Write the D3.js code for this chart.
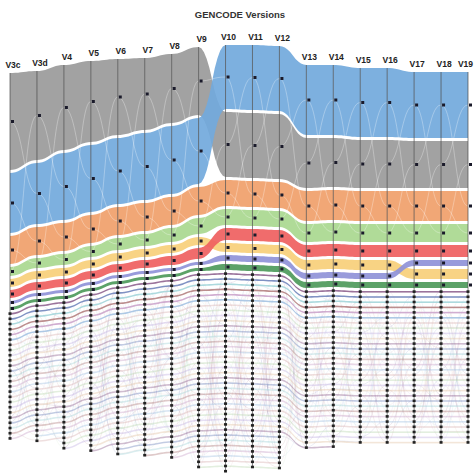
<!DOCTYPE html>
<html><head><meta charset="utf-8">
<script src="https://cdn.jsdelivr.net/npm/d3@7"></script>
<style>body{margin:0;background:#fff}</style></head>
<body><svg id="c" width="474" height="474"></svg>
<script>
const versions=["V3c","V3d","V4","V5","V6","V7","V8","V9","V10","V11","V12","V13","V14","V15","V16","V17","V18","V19"];
const colOffset=[73,71,65,61,59,58,54,47,45,45,46,65,65,68,68,72,72,72];
const grey=[97,89,85,81,76,72,69,68,65,65,65,50,49,48,48,47,47,47];
const blue=[60,61,67,67,66,67,68,66,64,65,65,70,70,69,69,66,66,66];
const orange=[28,28,28,28,28,28,28,28,26,26,26,30,30,30,30,30,30,30];
const green=[9,10,11,11,12,12,14,16,16,16,16,18,18,18,18,18,18,18];
const yellow=[8,8,8,8,8,8,8,8,9,9,9,10,10,10,10,10,10,10];
const red=[8,8,8,8,8,8,9,11,12,12,12,12,12,12,12,12,12,12];
const purple=[3,3,3,3,3,3,3,3,6,6,6,6,6,6,6,6,6,6];
const dkgreen=[3,3,3,3,3,3,3,3,6,6,6,6,6,6,6,6,6,6];
const thinCount=[25,27,29,31,33,34,35,38,39,38,38,31,31,30,30,30,30,30];
const orderEarly=["grey","blue","orange","green","yellow","red","purple","dkgreen"];
const orderMid=["blue","grey","orange","green","red","yellow","purple","dkgreen"];
const orderLate=["blue","grey","orange","green","red","purple","yellow","dkgreen"];
const cats={grey:{v:grey,c:"#9a9a9a"},blue:{v:blue,c:"#72a9dc"},orange:{v:orange,c:"#f0a06a"},green:{v:green,c:"#a9d88f"},yellow:{v:yellow,c:"#f7cf7a"},red:{v:red,c:"#ef5f5f"},purple:{v:purple,c:"#8f93d8"},dkgreen:{v:dkgreen,c:"#4e9a5b"}};
const thinColors=["#8a5a8a","#6a7fb8","#9fd3d8","#b07a7a","#c9a0c9","#a0c0e0","#d8b0b0","#b8d8b0","#c0b0e0","#e0c0a0"];

const svg=d3.select("#c");
const x=d3.scalePoint().domain(versions).range([10,468]);
const y=d3.scaleLinear().domain([0,1]).range([0,1]);
const PAD=3,THIN=1.6,TPAD=3.6;

const nodes=versions.map((v,i)=>{
  const ord=i<8?orderEarly:(i<15?orderMid:orderLate);
  let yy=colOffset[i];const m={};
  ord.forEach(k=>{const h=y(cats[k].v[i]);m[k]={y0:yy,y1:yy+h};yy+=h+PAD;});
  const thin=[];
  for(let t=0;t<thinCount[i];t++){thin.push({y0:yy,y1:yy+THIN});yy+=THIN+TPAD;}
  return {x:x(v),m,thin,bottom:yy};
});

function ribbon(a,b,xa,xb){
  const pts=[];
  for(let s=0;s<=1.0001;s+=0.1){
    const e=s<0.5?2*s*s:1-2*(1-s)*(1-s);
    pts.push([xa+(xb-xa)*s,a.y0+(b.y0-a.y0)*e,a.y1+(b.y1-a.y1)*e]);
  }
  return d3.area().x(d=>d[0]).y0(d=>d[1]).y1(d=>d[2])(pts);
}
const g=svg.append("g");
for(let i=0;i<versions.length-1;i++){
  const A=nodes[i],B=nodes[i+1];
  A.thin.forEach((n,t)=>{
    const tt=(t*7+i*3)%B.thin.length;
    const m=B.thin[tt];
    g.append("path").attr("d",`M${A.x},${n.y0}C${(A.x+B.x)/2},${n.y0} ${(A.x+B.x)/2},${m.y0} ${B.x},${m.y0}`)
     .attr("fill","none").attr("stroke",thinColors[(t+i)%thinColors.length]).attr("stroke-opacity",0.22).attr("stroke-width",0.6);
  });
}
for(let i=0;i<versions.length-1;i++){
  const A=nodes[i],B=nodes[i+1];
  Object.keys(cats).forEach(k=>{
    g.append("path").attr("d",ribbon(A.m[k],B.m[k],A.x,B.x)).attr("fill",cats[k].c).attr("fill-opacity",0.92);
  });
  const n=Math.min(A.thin.length,B.thin.length);
  for(let t=0;t<n;t++){
    const a=A.thin[t],b=B.thin[t];
    const col=thinColors[t%thinColors.length];
    g.append("path").attr("d",ribbon(a,b,A.x,B.x)).attr("fill",col).attr("fill-opacity",t<6?0.85:0.4);
  }
}
for(let i=0;i<versions.length-1;i++){
  const A=nodes[i],B=nodes[i+1];
  ["grey","blue","orange","green"].forEach((k,j)=>{
    const k2=["blue","orange","green","grey"][j];
    g.append("path").attr("d",`M${A.x},${(A.m[k].y0+A.m[k].y1)/2}C${(A.x+B.x)/2},${(A.m[k].y0+A.m[k].y1)/2} ${(A.x+B.x)/2},${(B.m[k2].y0+B.m[k2].y1)/2} ${B.x},${(B.m[k2].y0+B.m[k2].y1)/2}`)
      .attr("fill","none").attr("stroke","#fff").attr("stroke-opacity",0.3).attr("stroke-width",1);
  });
}
nodes.forEach((n,i)=>{
  g.append("line").attr("x1",n.x).attr("x2",n.x).attr("y1",colOffset[i]).attr("y2",n.bottom-TPAD)
    .attr("stroke","#444").attr("stroke-width",0.9).attr("stroke-opacity",0.75);
  Object.keys(cats).forEach(k=>{
    const c=n.m[k];const my=(c.y0+c.y1)/2;
    g.append("rect").attr("x",n.x+1).attr("y",my-1.5).attr("width",3).attr("height",3).attr("fill","#1a1a2a");
  });
  n.thin.forEach(c=>{
    g.append("rect").attr("x",n.x-1.5).attr("y",c.y0-0.7).attr("width",3).attr("height",2.6).attr("fill","#222");
  });
  const last=i===versions.length-1;
  svg.append("text").attr("x",last?473:n.x+3).attr("y",colOffset[i]-5).attr("text-anchor",last?"end":"middle")
    .attr("font-family","Liberation Sans, Arial").attr("font-weight","bold").attr("font-size",8.5).attr("fill","#222").text(versions[i]);
});
svg.append("text").attr("x",240).attr("y",18).attr("text-anchor","middle")
  .attr("font-family","Liberation Sans, Arial").attr("font-weight","bold").attr("font-size",9.5).attr("fill","#333").text("GENCODE Versions");
</script></body></html>
